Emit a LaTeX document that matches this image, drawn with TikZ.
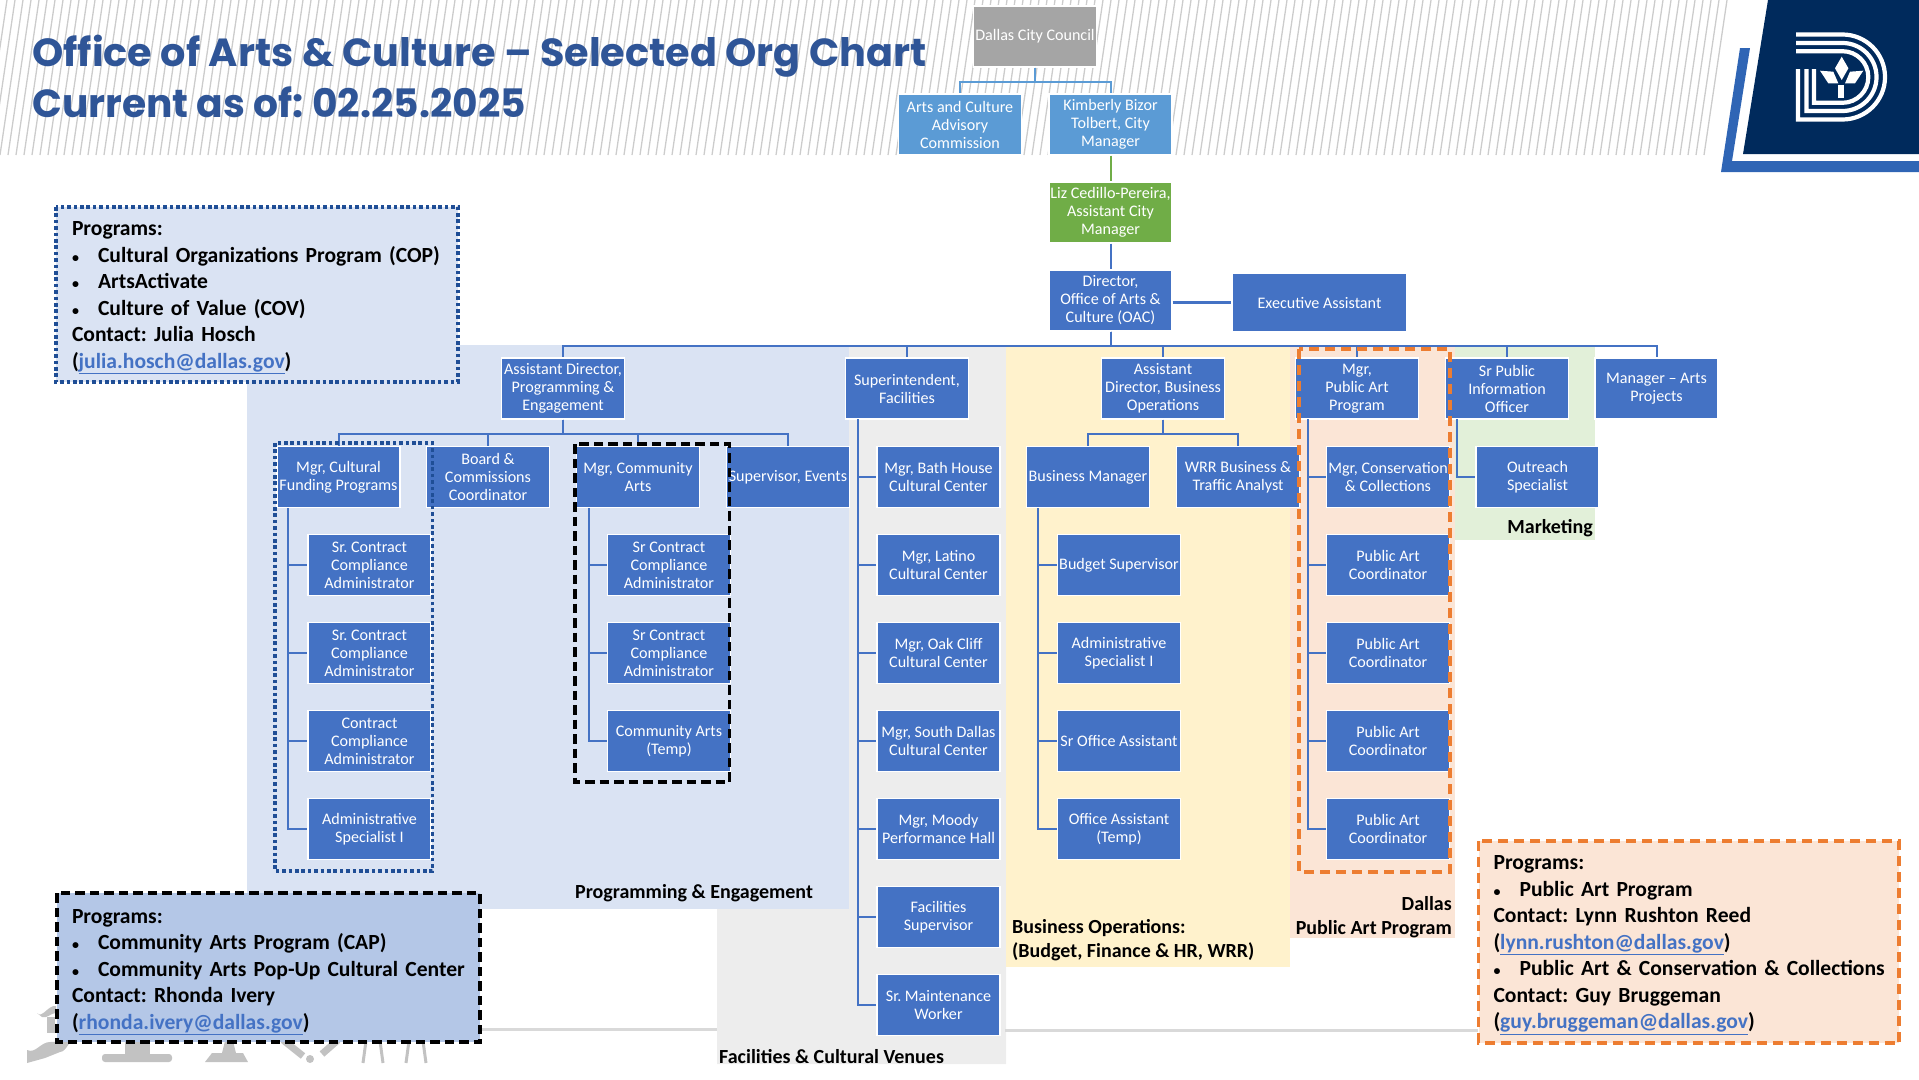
\documentclass[tikz,border=0pt]{standalone}
\usepackage{fontspec}
\usepackage{graphicx}
\setmainfont{Carlito}
\newfontfamily\titlefont{Poppins}
\usepackage{xcolor}
\definecolor{oacblue}{HTML}{4472C4}
\definecolor{cityblue}{HTML}{5B9BD5}
\definecolor{acmgreen}{HTML}{70AD47}
\definecolor{councilgray}{HTML}{A5A5A5}
\definecolor{titleblue}{HTML}{2F5597}
\definecolor{logonavy}{HTML}{002A5C}
\definecolor{logoblue}{HTML}{2F65B5}
\definecolor{pebg}{HTML}{DAE3F3}
\definecolor{capbg}{HTML}{B4C7E7}
\definecolor{facbg}{HTML}{EDEDED}
\definecolor{bizbg}{HTML}{FFF2CC}
\definecolor{artbg}{HTML}{FBE5D6}
\definecolor{mktbg}{HTML}{E2F0D9}
\definecolor{artorange}{HTML}{ED7D31}
\definecolor{dotblue}{HTML}{1F4E96}
\colorlet{ghost}{black!24}
\frenchspacing
\tikzstyle{orgbox}=[draw=white,line width=1.4,fill=oacblue,text=white,align=center,inner sep=0,minimum width=123,minimum height=61,font=\fontsize{16.1}{18}\selectfont]
\tikzstyle{citybox}=[orgbox,fill=cityblue]
\tikzstyle{conn}=[line width=2,oacblue]
\tikzstyle{hatch}=[line width=1.3,black!20]
\tikzstyle{progbox}=[align=left,inner sep=0,anchor=center,font=\fontsize{21.6}{26.5}\selectfont\bfseries]
\tikzstyle{grouplabel}=[font=\fontsize{20}{24.5}\selectfont\bfseries,inner sep=0]
\tikzstyle{titleline}=[anchor=base west,inner sep=0,text=titleblue,font=\fontsize{39.2}{48}\titlefont\bfseries]
\tikzstyle{dotframe}=[line width=3.6,dotblue,dash pattern=on 3.6 off 2.8]
\tikzstyle{blackframe}=[line width=3.2,black,dash pattern=on 9.5 off 5]
\tikzstyle{artframe}=[line width=3.2,artorange,dash pattern=on 10 off 6]
\newcommand{\bul}{\makebox[26pt][l]{\fontsize{14}{14}\selectfont\textbullet}}
\newcommand{\maillink}[1]{(\textcolor{oacblue}{\underline{#1}})}

\begin{document}
\begin{tikzpicture}[x=1pt,y=-1pt]
  \useasboundingbox (0,0) rectangle (1919,1079);

  % HATCH BAND
  \foreach \hx in {-24,-16,...,1707}
    \draw[hatch] (\hx,155) -- ++(23,-155);

  % LOGO
  \fill[logonavy] (1768,0) -- (1743,154) -- (1919,154) -- (1919,0) -- cycle;
  \fill[logoblue] (1740,48) -- (1750,48) -- (1732,161) -- (1919,161) -- (1919,172) -- (1721,172) -- cycle;
  \draw[white,line width=4.2]
    (1796,34.5) -- (1842.5,34.5) arc[start angle=-90,end angle=90,radius=42.5] -- (1798,119.5) -- (1798,69)
    (1796,43) -- (1842.5,43) arc[start angle=-90,end angle=90,radius=34] -- (1806.5,111) -- (1806.5,69)
    (1796,51.2) -- (1842.5,51.2) arc[start angle=-90,end angle=90,radius=25.8] -- (1814,102.8) -- (1814,69);
  \fill[white] (1841.7,56.7) -- (1848.4,68.3) -- (1841.7,80) -- (1835,68.3) -- cycle; % LEAVES
  \fill[white] (1820,70.7) -- (1833.3,71.7) -- (1838.3,83.3) -- (1828.3,83.3) -- cycle;
  \fill[white] (1863.3,70.7) -- (1850,71.7) -- (1845,83.3) -- (1855,83.3) -- cycle;
  \fill[white] (1837.7,85) rectangle (1844.3,98.3);

  % BACKGROUNDS
  \fill[pebg] (247,345) rectangle (849,909);
  \fill[facbg] (849,345) -- (1006,345) -- (1006,1064) -- (717,1064) -- (717,909) -- (849,909) -- cycle;
  \fill[bizbg] (1006,345) rectangle (1290,967);
  \fill[artbg] (1290,345) rectangle (1454.5,938);
  \fill[mktbg] (1454.5,345) rectangle (1595,540);

  % BOTTOM LINE AND ICONS
  \draw[line width=3,black!15] (480,1029) -- (717,1029) (1005,1030) -- (1478,1030);
  \fill[ghost] (27,1063) -- (27,1050) to[out=-25,in=180] (50,1042) -- (75,1041) to[out=130,in=0] (60,1052) -- (45,1058) -- cycle;
  \fill[ghost] (37,1013) to[out=-50,in=170] (56,1006) -- (56,1013) to[out=180,in=-20] (42,1017) -- cycle;
  \fill[ghost] (47,1017) -- (55,1017) -- (55,1033) -- (47,1033) -- cycle;
  \fill[ghost,rounded corners=3] (102,1054) rectangle (172,1062);
  \fill[ghost] (125,1041) rectangle (150,1054);
  \fill[ghost] (205,1062) -- (212,1053) -- (222,1053) -- (225,1041) -- (233,1041) -- (236,1053) -- (243,1053) -- (248,1062) -- cycle;
  \draw[ghost,line width=7] (283,1040) -- (303,1056) (338,1040) -- (322,1054);
  \fill[ghost] (310,1059) circle (4);
  \draw[ghost,line width=3]
    (366,1041) -- (363,1063) (380,1041) -- (383,1063)
    (409,1041) -- (406,1063) (423,1041) -- (426,1063);

  % TITLE
  \node[titleline] (titlea) at (32,66) {\scalebox{1.015}[1]{Office of Arts \& Culture – Selected Org Chart}};
  \node[titleline] (titleb) at (32,117) {Current as of: 02.25.2025};

  % TOP OF THE CHART
  \node[orgbox,fill=councilgray] (council) at (1035,36.5) {Dallas City Council};
  \node[citybox] (advisory) at (960,124.5) {Arts and Culture\\Advisory\\Commission};
  \node[citybox] (manager) at (1110.5,124.5) {Kimberly Bizor\\Tolbert, City\\Manager};
  \node[orgbox,fill=acmgreen] (liz) at (1110.5,212.5) {Liz Cedillo-Pereira,\\Assistant City\\Manager};
  \node[orgbox] (director) at (1110.5,300.5) {Director,\\Office of Arts \&\\Culture (OAC)};
  \node[orgbox,minimum width=175,minimum height=58] (execasst) at (1319.5,302.5) {Executive Assistant};

  % SECOND ROW
  \node[orgbox] (adpe) at (563,388.5) {Assistant Director,\\Programming \&\\Engagement};
  \node[orgbox] (super) at (907,388.5) {Superintendent,\\Facilities};
  \node[orgbox] (adbo) at (1163,388.5) {Assistant\\Director, Business\\Operations};
  \node[orgbox] (mgrart) at (1357,388.5) {Mgr,\\Public Art\\Program};
  \node[orgbox] (pio) at (1507,388.5) {Sr Public\\Information\\Officer};
  \node[orgbox] (mgrarts) at (1656.5,388.5) {Manager -- Arts\\Projects};

  % PROGRAMMING AND ENGAGEMENT
  \node[orgbox] (funding) at (338.5,477) {Mgr, Cultural\\Funding Programs};
  \node[orgbox] (board) at (488,477) {Board \&\\Commissions\\Coordinator};
  \node[orgbox] (community) at (638,477) {Mgr, Community\\Arts};
  \node[orgbox] (events) at (788,477) {Supervisor, Events};
  \node[orgbox] (fa) at (369.5,565) {Sr. Contract\\Compliance\\Administrator};
  \node[orgbox] (fb) at (369.5,653) {Sr. Contract\\Compliance\\Administrator};
  \node[orgbox] (fc) at (369.5,741) {Contract\\Compliance\\Administrator};
  \node[orgbox] (fd) at (369.5,829) {Administrative\\Specialist I};
  \node[orgbox] (ca) at (669,565) {Sr Contract\\Compliance\\Administrator};
  \node[orgbox] (cb) at (669,653) {Sr Contract\\Compliance\\Administrator};
  \node[orgbox] (cc) at (669,741) {Community Arts\\(Temp)};

  % FACILITIES
  \node[orgbox] (va) at (938.5,477) {Mgr, Bath House\\Cultural Center};
  \node[orgbox] (vb) at (938.5,565) {Mgr, Latino\\Cultural Center};
  \node[orgbox] (vc) at (938.5,653) {Mgr, Oak Cliff\\Cultural Center};
  \node[orgbox] (vd) at (938.5,741) {Mgr, South Dallas\\Cultural Center};
  \node[orgbox] (ve) at (938.5,829) {Mgr, Moody\\Performance Hall};
  \node[orgbox] (vf) at (938.5,917) {Facilities\\Supervisor};
  \node[orgbox] (vg) at (938.5,1005) {Sr. Maintenance\\Worker};

  % BUSINESS OPERATIONS
  \node[orgbox] (bizmgr) at (1088,477) {Business Manager};
  \node[orgbox] (wrr) at (1238,477) {WRR Business \&\\Traffic Analyst};
  \node[orgbox] (ba) at (1119,565) {Budget Supervisor};
  \node[orgbox] (bb) at (1119,653) {Administrative\\Specialist I};
  \node[orgbox] (bc) at (1119,741) {Sr Office Assistant};
  \node[orgbox] (bd) at (1119,829) {Office Assistant\\(Temp)};

  % PUBLIC ART AND MARKETING
  \node[orgbox] (pa) at (1388,477) {Mgr, Conservation\\\& Collections};
  \node[orgbox] (pb) at (1388,565) {Public Art\\Coordinator};
  \node[orgbox] (pc) at (1388,653) {Public Art\\Coordinator};
  \node[orgbox] (pd) at (1388,741) {Public Art\\Coordinator};
  \node[orgbox] (pe) at (1388,829) {Public Art\\Coordinator};
  \node[orgbox] (outreach) at (1537.5,477) {Outreach\\Specialist};

  % CONNECTORS
  \coordinate (RF) at (288,508); % RAILS
  \coordinate (RC) at (589,508);
  \coordinate (RV) at (858,419);
  \coordinate (RB) at (1038,508);
  \coordinate (RP) at (1307.5,419);
  \coordinate (RO) at (1456.6,419);
  \draw[conn,cityblue] (council.south) -- ++(0,14) -| (advisory.north);
  \draw[conn,cityblue] (council.south) -- ++(0,14) -| (manager.north);
  \draw[conn,acmgreen] (manager.south) -- (liz.north);
  \draw[conn] (liz.south) -- (director.north);
  \draw[conn,line width=3.5] (director.east) ++(0,2) -- (execasst.west);
  \foreach \n in {adpe,super,adbo,mgrart,pio,mgrarts}
    \draw[conn] (director.south) -- ++(0,14) -| (\n.north);
  \foreach \n in {funding,board,community,events}
    \draw[conn] (adpe.south) -- ++(0,14) -| (\n.north);
  \foreach \n in {bizmgr,wrr}
    \draw[conn] (adbo.south) -- ++(0,14) -| (\n.north);
  \foreach \n in {fa,fb,fc,fd}
    \draw[conn] (RF) |- (\n.west);
  \foreach \n in {ca,cb,cc}
    \draw[conn] (RC) |- (\n.west);
  \foreach \n in {va,vb,vc,vd,ve,vf,vg}
    \draw[conn] (RV) |- (\n.west);
  \foreach \n in {ba,bb,bc,bd}
    \draw[conn] (RB) |- (\n.west);
  \foreach \n in {pa,pb,pc,pd,pe}
    \draw[conn] (RP) |- (\n.west);
  \draw[conn] (RO) |- (outreach.west);

  % GROUP LABELS
  \node[grouplabel,anchor=base west] (lblpe) at (575,898) {Programming \& Engagement};
  \node[grouplabel,anchor=base west] (lblfac) at (719,1063) {Facilities \& Cultural Venues};
  \node[grouplabel,anchor=north west,align=left] (lblbiz) at (1012,919) {Business Operations:\\(Budget, Finance \& HR, WRR)};
  \node[grouplabel,anchor=north east,align=right] (lblart) at (1452,896) {Dallas\\Public Art Program};
  \node[grouplabel,anchor=base east] (lblmkt) at (1593,533) {Marketing};

  % FRAMES
  \draw[dotframe] (275,443) rectangle (432.5,871);
  \draw[blackframe] (575,444) rectangle (729.5,782);
  \draw[artframe] (1299,349) rectangle (1450,872);

  % PROGRAM BOXES
  \draw[dotframe,fill=pebg] (56,207) rectangle (458,382);
  \node[progbox,text width=386] (cop) at (265,298) {Programs:\\\bul Cultural Organizations Program (COP)\\\bul ArtsActivate\\\bul Culture of Value (COV)\\Contact: Julia Hosch\\\maillink{julia.hosch@dallas.gov}};
  \draw[blackframe,fill=capbg] (57,893) rectangle (480,1042);
  \node[progbox,text width=407] (cap) at (275.5,972) {Programs:\\\bul Community Arts Program (CAP)\\\bul Community Arts Pop-Up Cultural Center\\Contact: Rhonda Ivery\\\maillink{rhonda.ivery@dallas.gov}};
  \draw[artframe,fill=artbg] (1478.5,841) rectangle (1899,1043);
  \node[progbox,text width=404] (art) at (1695.5,945) {Programs:\\\bul Public Art Program\\Contact: Lynn Rushton Reed\\\maillink{lynn.rushton@dallas.gov}\\\bul Public Art \& Conservation \& Collections\\Contact: Guy Bruggeman\\\maillink{guy.bruggeman@dallas.gov}};
\end{tikzpicture}
\end{document}
